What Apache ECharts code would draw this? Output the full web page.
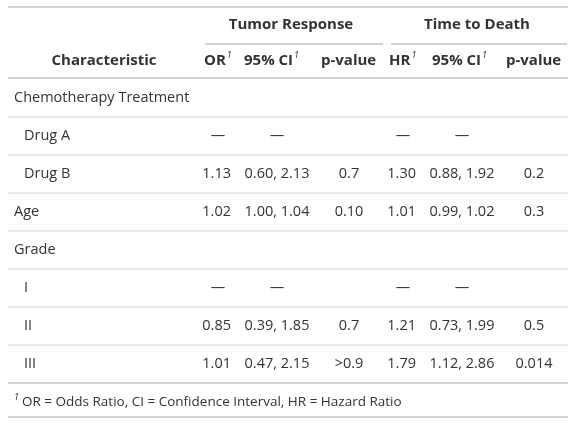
<!DOCTYPE html>
<html><head><meta charset="utf-8">
<script src="https://cdn.jsdelivr.net/npm/echarts@6/dist/echarts.min.js"></script>
<style>html,body{margin:0;padding:0;background:#fff}#main{width:580px;height:427px}</style>
</head><body><div id="main"></div>
<script>
var spanners = ['Tumor Response', 'Time to Death'];
var headers = ['OR', '95% CI', 'p-value', 'HR', '95% CI', 'p-value'];
var headerSup = [true, true, false, true, true, false];
var labels = ['Chemotherapy Treatment', 'Drug A', 'Drug B', 'Age', 'Grade', 'I', 'II', 'III'];
var indent = [0, 1, 1, 0, 0, 1, 1, 1];
var orVals = ['', '—', '1.13', '1.02', '', '—', '0.85', '1.01'];
var orCI = ['', '—', '0.60, 2.13', '1.00, 1.04', '', '—', '0.39, 1.85', '0.47, 2.15'];
var orP = ['', '', '0.7', '0.10', '', '', '0.7', '>0.9'];
var hrVals = ['', '—', '1.30', '1.01', '', '—', '1.21', '1.79'];
var hrCI = ['', '—', '0.88, 1.92', '0.99, 1.02', '', '—', '0.73, 1.99', '1.12, 2.86'];
var hrP = ['', '', '0.2', '0.3', '', '', '0.5', '0.014'];
var footnote = 'OR = Odds Ratio, CI = Confidence Interval, HR = Hazard Ratio';

var font = '"Open Sans", "Noto Sans", sans-serif';
var txt = '#333';
var lineC = '#d3d3d3';
var rowTop = 79, rowH = 38;
var cols = [[231, 'right'], [277, 'center'], [349, 'center'], [416, 'right'], [462, 'center'], [534, 'center']];
var dashX = [218, 277, 349, 403, 462, 534];

var ctx = document.createElement('canvas').getContext('2d');
function fontStr(o) { return (o.bold ? 'bold ' : '') + (o.size || 14.5) + 'px ' + font; }
function width(s, o) { ctx.font = fontStr(o); return ctx.measureText(s).width; }

var els = [];
function t(x, y, s, opt) {
  opt = opt || {};
  els.push({type: 'text', x: x, y: y, style: {text: s, fill: txt, font: (opt.italic ? 'italic ' : '') + fontStr(opt),
    textAlign: opt.align || 'left', textVerticalAlign: 'middle'}});
}
function hl(x1, x2, y, w, c) {
  els.push({type: 'line', shape: {x1: x1, y1: y, x2: x2, y2: y}, style: {stroke: c || lineC, lineWidth: w || 1}});
}
hl(8, 568, 7, 2);
t(291, 25, spanners[0], {bold: true, size: 15, align: 'center'});
t(477, 25, spanners[1], {bold: true, size: 15, align: 'center'});
hl(205, 383, 44, 2);
hl(391, 567, 44, 2);
t(104, 61, 'Characteristic', {bold: true, size: 15, align: 'center'});
var hx = [204, 244, 321, 389, 432, 506];
headers.forEach(function (h, i) {
  var o = {bold: true, size: 15};
  t(hx[i], 61, h, o);
  if (headerSup[i]) t(hx[i] + width(h, o) + 1, 55, '1', {size: 9, italic: true});
});
hl(8, 568, 78, 2);
var colsData = [orVals, orCI, orP, hrVals, hrCI, hrP];
labels.forEach(function (lab, r) {
  var y = rowTop + rowH * r + rowH / 2;
  t(indent[r] ? 24 : 14, y, lab);
  colsData.forEach(function (arr, c) {
    var v = arr[r];
    if (!v) return;
    if (v === '—') t(dashX[c], y, v, {align: 'center'});
    else t(cols[c][0], y, v, {align: cols[c][1]});
  });
  if (r < labels.length - 1) hl(8, 568, rowTop + rowH * (r + 1), 1);
});
var lastY = rowTop + rowH * labels.length;
hl(8, 568, lastY, 2);
t(14, 397, '1', {size: 9, italic: true});
t(22, 402, footnote, {size: 13.5});
hl(8, 568, 417, 2);

var chart = echarts.init(document.getElementById('main'));
chart.setOption({graphic: {elements: els}});
</script></body></html>
